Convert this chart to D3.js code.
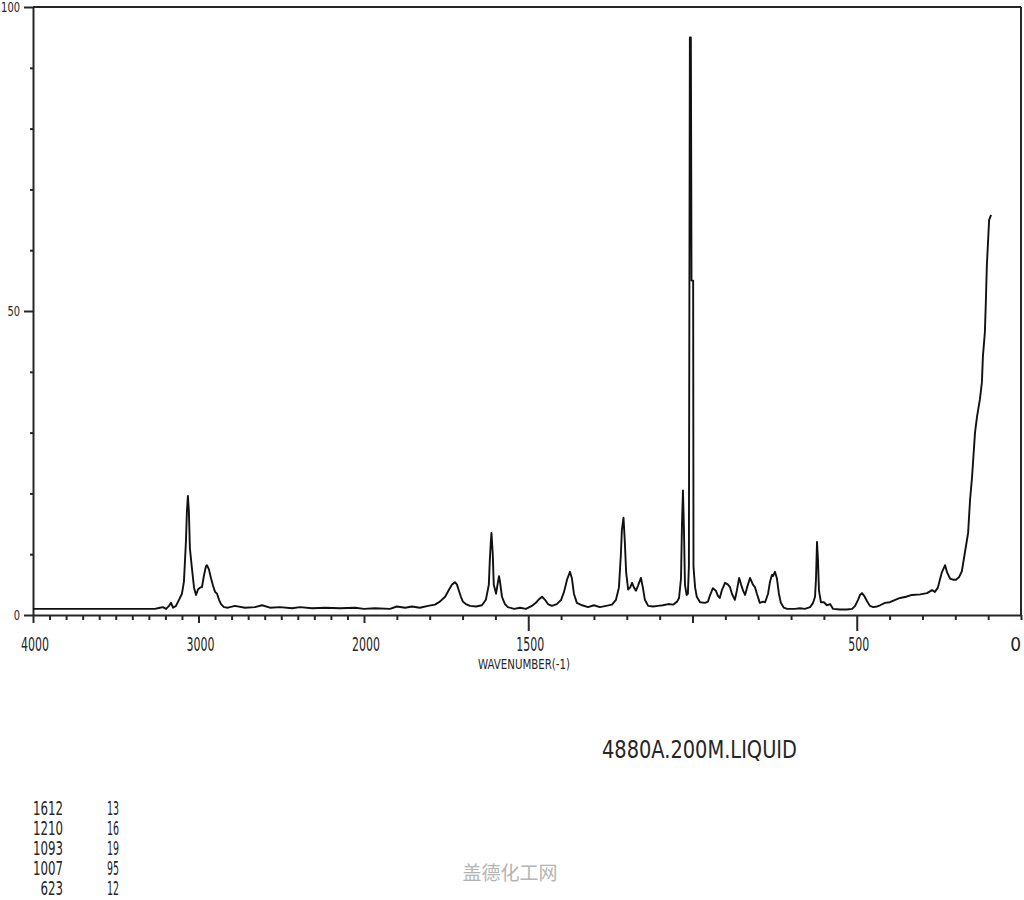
<!DOCTYPE html>
<html><head><meta charset="utf-8">
<script src="https://cdn.jsdelivr.net/npm/d3@7"></script>
<style>body{margin:0;background:#fff;} svg{display:block}</style>
</head><body>
<svg id="c" width="1024" height="900"></svg>
<script>
// Raman spectrum [wavenumber, intensity]
const spectrumHigh = [
[4000,1.0],[3600,1.0],[3263,1.0],[3233,1.2],[3215,1.3],[3196,1.0],[3178,1.5],[3166,2.0],[3154,1.2],[3136,1.5],
[3118,2.5],[3100,3.5],[3088,5.5],[3076,12],[3070,17],[3064,19.6],[3058,17],[3052,11],[3039,7.5],[3027,4.5],
[3015,3.3],[3003,4.2],[2991,4.5],[2979,4.6],[2967,6.5],[2955,8.0],[2949,8.2],[2937,7.5],[2924,6.0],[2912,4.8],
[2900,3.8],[2888,3.5],[2876,2.5],[2864,1.8],[2846,1.3],[2822,1.2],[2780,1.5],[2719,1.2],[2659,1.3],[2616,1.6],
[2568,1.2],[2508,1.3],[2435,1.1],[2387,1.3],[2314,1.1],[2236,1.2],[2145,1.1],[2054,1.2],[2000,1.0]
];
const spectrumLow = [
[1967,1.1],[1921,1.0],[1900,1.4],[1875,1.2],[1854,1.4],[1830,1.2],[1805,1.5],[1784,1.7],[1769,2.2],[1753,3.0],
[1741,4.2],[1732,5.0],[1723,5.4],[1717,5.0],[1711,4.0],[1705,3.0],[1699,2.2],[1690,1.8],[1677,1.5],[1659,1.4],
[1641,1.6],[1629,2.5],[1620,5],[1617,9],[1614,12],[1612,13.5],[1608,10],[1605,5.0],[1598,3.5],[1592,5.5],
[1589,6.4],[1586,5.5],[1580,3.0],[1571,1.8],[1562,1.3],[1543,1.0],[1525,1.2],[1507,1.0],[1489,1.5],[1477,2.0],
[1467,2.6],[1458,3.0],[1449,2.5],[1440,1.8],[1428,1.5],[1413,1.8],[1400,2.5],[1391,3.8],[1382,5.8],[1373,7.1],
[1367,6.0],[1361,3.5],[1352,2.0],[1336,1.6],[1318,1.3],[1300,1.6],[1282,1.3],[1263,1.5],[1245,1.7],[1233,2.5],
[1224,4.5],[1218,10],[1215,14],[1210,16],[1206,12],[1202,7],[1196,4.2],[1190,4.5],[1184,5.3],[1178,4.5],
[1172,4.0],[1166,4.8],[1157,6.1],[1151,4.5],[1145,2.5],[1135,1.5],[1120,1.4],[1105,1.5],[1090,1.6],[1074,1.8],
[1059,1.7],[1047,2.2],[1041,2.8],[1035,6],[1032,15],[1029,20.5],[1026,14],[1023,5],[1018,3.3],[1014,3.5],
[1011,8],[1008,95],[1005,95],[1003,55],[998,55],[997,8],[995,6.5],[992,4.5],[987,3.0],[977,2.1],
[962,2.0],[953,2.2],[947,3.2],[938,4.4],[929,4.0],[923,3.2],[917,2.8],[911,4.0],[901,5.3],[892,5.0],
[886,4.6],[880,3.5],[871,2.5],[865,4.0],[858,6.1],[852,5.0],[846,4.0],[840,3.3],[834,4.5],[825,6.1],
[816,5.0],[810,4.6],[804,3.5],[795,2.0],[785,2.2],[779,2.1],[770,3.5],[764,5.5],[758,6.6],[755,6.4],
[749,7.1],[743,6.0],[737,3.5],[731,2.0],[722,1.2],[712,1.0],[688,1.0],[673,1.1],[658,1.0],[642,1.3],
[633,2.0],[627,3.0],[624,6],[621,12],[618,9],[615,4],[609,2.1],[600,2.1],[591,1.6],[581,1.8],
[572,1.0],[551,0.9],[530,0.9],[514,1.0],[505,1.5],[496,2.5],[490,3.3],[484,3.6],[478,3.2],[469,2.3],
[460,1.5],[450,1.3],[438,1.4],[429,1.6],[414,2.0],[399,2.1],[383,2.5],[368,2.8],[350,3.0],[332,3.3],
[307,3.4],[286,3.6],[271,4.1],[262,3.8],[253,4.5],[247,5.8],[241,7.0],[231,8.2],[225,7.0],[216,6.0],
[207,5.8],[198,5.8],[189,6.2],[180,7.2],[171,10.2],[164,12.5],[161,13.5],[155,19],[149,22.7],[140,30],
[134,32.6],[125,35.5],[119,38.3],[116,42.5],[110,46.5],[107,51.5],[104,57.4],[97,65],[91,65.8]
];
const xLabelValues = [4000,3000,2000,1500,500,0];
const xMediumTicks = [4000,3000,2000,1000];
const xLongTicks = [1500,500];
const yLabelValues = [0,50,100];
const peakWavenumbers = ["1612","1210","1093","1007","623"];
const peakIntensities = ["13","16","19","95","12"];
const axisTitle = "WAVENUMBER(-1)";
const sampleTitle = "4880A.200M.LIQUID";
const watermark = "盖德化工网";

const svg = d3.select("#c");
const FONT = "'DejaVu Sans Condensed','DejaVu Sans',sans-serif";
const INK = "#262626";

const x = d3.scaleLinear().domain([4000,2000,0]).range([33,364,1021]);
const y = d3.scaleLinear().domain([0,100]).range([615,7]);

const minorTicks = d3.range(0,4001,100).filter(v => !xMediumTicks.includes(v) && !xLongTicks.includes(v));
const yMinor = d3.range(10,100,10).filter(v => v!==50);

function styleAxis(g){
  g.selectAll("path,line").attr("stroke",INK).attr("stroke-width",2);
  g.selectAll("text").remove();
}
// bottom axis
svg.append("g").attr("transform",`translate(0,${y(0)})`)
  .call(d3.axisBottom(x).tickValues(minorTicks).tickSize(5).tickSizeOuter(0).tickFormat(""))
  .call(styleAxis);
svg.append("g").attr("transform",`translate(0,${y(0)})`)
  .call(d3.axisBottom(x).tickValues(xMediumTicks).tickSize(8).tickSizeOuter(0).tickFormat(""))
  .call(styleAxis).select(".domain").remove();
svg.append("g").attr("transform",`translate(0,${y(0)})`)
  .call(d3.axisBottom(x).tickValues(xLongTicks).tickSize(16).tickSizeOuter(0).tickFormat(""))
  .call(styleAxis).select(".domain").remove();
// left axis
svg.append("g").attr("transform",`translate(${x(4000)},0)`)
  .call(d3.axisLeft(y).tickValues(yLabelValues).tickSize(9).tickSizeOuter(0).tickFormat(""))
  .call(styleAxis);
svg.append("g").attr("transform",`translate(${x(4000)},0)`)
  .call(d3.axisLeft(y).tickValues(yMinor).tickSize(3).tickSizeOuter(0).tickFormat(""))
  .call(styleAxis).select(".domain").remove();
// top and right border
svg.append("line").attr("x1",x(4000)).attr("x2",x(0)).attr("y1",y(100)).attr("y2",y(100))
  .attr("stroke",INK).attr("stroke-width",2);
svg.append("line").attr("x1",x(0)).attr("x2",x(0)).attr("y1",y(100)).attr("y2",y(0))
  .attr("stroke",INK).attr("stroke-width",2);

// spectrum
const data = spectrumHigh.concat(spectrumLow);
svg.append("path").datum(data)
  .attr("d", d3.line().x(d=>x(d[0])).y(d=>y(d[1])))
  .attr("fill","none").attr("stroke","#111").attr("stroke-width",1.9).attr("stroke-linejoin","round");

// x labels
svg.append("g").selectAll("text").data(xLabelValues).join("text")
  .attr("x", d => d === 0 ? 1021 : x(d)+2).attr("y", 651)
  .attr("text-anchor", d => d === 0 ? "end" : "middle")
  .attr("font-family",FONT).attr("font-size",19).attr("fill",INK)
  .attr("textLength", d => d === 0 ? null : String(d).length*7).attr("lengthAdjust","spacingAndGlyphs")
  .text(d => d);
// y labels
svg.append("g").selectAll("text").data(yLabelValues).join("text")
  .attr("x", 20).attr("y", d => y(d)+5)
  .attr("text-anchor","end")
  .attr("font-family",FONT).attr("font-size",14).attr("fill",INK)
  .attr("textLength", d => String(d).length*6.3).attr("lengthAdjust","spacingAndGlyphs")
  .text(d => d);

svg.append("text").attr("x",478).attr("y",669).attr("font-family",FONT).attr("font-size",14.5)
  .attr("fill",INK).attr("textLength",92).attr("lengthAdjust","spacingAndGlyphs").text(axisTitle);
svg.append("text").attr("x",602).attr("y",758).attr("font-family",FONT).attr("font-size",25)
  .attr("fill",INK).attr("textLength",195).attr("lengthAdjust","spacingAndGlyphs").text(sampleTitle);

// peak table
const rows = svg.append("g");
rows.selectAll("text.wn").data(peakWavenumbers).join("text").attr("class","wn")
  .attr("x",63).attr("y",(d,i)=>815+i*20).attr("text-anchor","end")
  .attr("font-family",FONT).attr("font-size",19).attr("fill",INK)
  .attr("textLength",d=>d.length*7.5).attr("lengthAdjust","spacingAndGlyphs").text(d=>d);
rows.selectAll("text.iv").data(peakIntensities).join("text").attr("class","iv")
  .attr("x",119).attr("y",(d,i)=>815+i*20).attr("text-anchor","end")
  .attr("font-family",FONT).attr("font-size",19).attr("fill",INK)
  .attr("textLength",d=>d.length*6).attr("lengthAdjust","spacingAndGlyphs").text(d=>d);

svg.append("text").attr("x",510).attr("y",880).attr("text-anchor","middle")
  .attr("font-family","'Noto Sans CJK SC',sans-serif").attr("font-size",19).attr("fill","#b4b4b4")
  .text(watermark);
</script>
</body></html>
